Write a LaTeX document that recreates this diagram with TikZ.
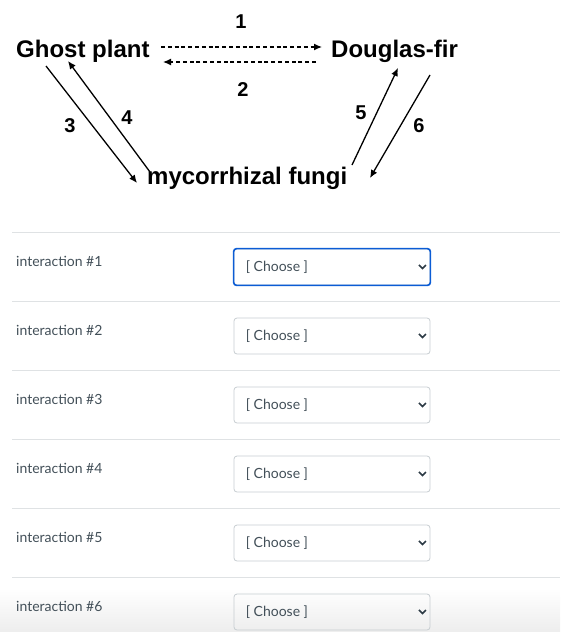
\documentclass[tikz,border=0pt]{standalone}
\usepackage{fontspec}
\setmainfont{Liberation Sans}
\newfontfamily\formfont{Lato}
\usepackage{xcolor}
\usetikzlibrary{arrows.meta,positioning,calc}
\definecolor{inktext}{HTML}{2D3B45}
\definecolor{selblue}{HTML}{0B5CD5}
\definecolor{selgray}{HTML}{C7CDD1}
\definecolor{rule}{HTML}{DFE2E4}
\tikzset{
  organism/.style={font=\fontsize{24}{26}\selectfont\bfseries, inner sep=0pt},
  num/.style={font=\fontsize{20}{22}\selectfont\bfseries, inner sep=0pt},
  flow/.style={-{Latex[length=8pt,width=7pt]}, line width=1.3pt},
  dflow/.style={flow, dash pattern=on 4pt off 2.8pt},
  rowlabel/.style={font=\formfont\fontsize{14}{16}\selectfont, text=inktext!90, anchor=west, inner sep=0pt},
  selectbox/.style={draw=selgray, line width=0.8pt, rounded corners=3pt, minimum width=196pt, minimum height=36pt, inner sep=0pt},
  choice/.style={font=\formfont\fontsize{14}{16}\selectfont, text=inktext!90, anchor=west, inner sep=0pt}}

\begin{document}
\begin{tikzpicture}[x=1pt,y=-1pt]
  \useasboundingbox (0,0) rectangle (560,632);
  % fading strip at the bottom of the page
  \shade[top color=white, bottom color=black!7] (0,588) rectangle (560,632);

  % organisms
  \node[organism, anchor=west] (gp) at (16,51) {Ghost plant};
  \node[organism, anchor=west] (df) at (331,51) {Douglas-fir};
  \node[organism, anchor=west] (mf) at (147,178) {mycorrhizal fungi};

  % arrow ends
  \coordinate (g1) at (161,47);  \coordinate (d1) at (322,47);
  \coordinate (d2) at (316,62);  \coordinate (g2) at (163,62);
  \coordinate (g3) at (46,66);   \coordinate (m3) at (137,183);
  \coordinate (m4) at (150,172); \coordinate (g4) at (68,61);
  \coordinate (m5) at (352,165); \coordinate (d5) at (398,68);
  \coordinate (d6) at (430,75);  \coordinate (m6) at (370,178);

  \draw[dflow] (g1) -- (d1);
  \draw[dflow] (d2) -- (g2);
  \draw[flow] (g3) -- (m3);
  \draw[flow] (m4) -- (g4);
  \draw[flow] (m5) -- (d5);
  \draw[flow] (d6) -- (m6);

  \node[num] (n1) at (241,22) {1};
  \node[num] (n2) at (243,90) {2};
  \node[num] (n3) at (70,126) {3};
  \node[num] (n4) at (127,118) {4};
  \node[num] (n5) at (361,113) {5};
  \node[num] (n6) at (419,126) {6};

  % question rows
  \foreach \n in {1,...,6} {
    \pgfmathsetmacro{\ry}{232+69*(\n-1)}
    \draw[rule, line width=0.8pt] (12,\ry) -- (560,\ry);
    \node[rowlabel] (lab\n) at (16,\ry+29) {interaction \#\n};
    \node[selectbox] (sel\n) at (332,\ry+35) {};
    \node[choice] (ch\n) at ([xshift=12pt]sel\n.west) {[ Choose ]};
    \draw[inktext, line width=1.6pt] ([xshift=-11.5pt,yshift=2pt]sel\n.east) -- ++(3.5,3.5) -- ++(3.5,-3.5);
  }
  \draw[selblue, line width=1.6pt, rounded corners=3pt] (sel1.north west) rectangle (sel1.south east);
\end{tikzpicture}
\end{document}
